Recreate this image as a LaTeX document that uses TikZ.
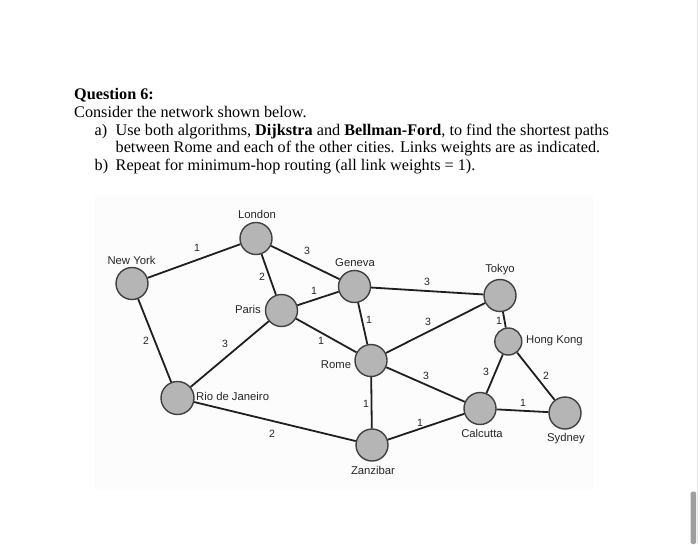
\documentclass[tikz,border=0pt]{standalone}
\usepackage{fontspec}
\setmainfont{Liberation Serif}
\newfontfamily\labelfont{Liberation Sans}
\begin{document}
\begin{tikzpicture}[x=1pt,y=-1pt,
  city/.style={circle,minimum size=32pt,inner sep=0pt,fill=black!29,draw=black!75,line width=1.4pt},
  smallcity/.style={city,minimum size=27pt},
  link/.style={draw=black!88,line width=1.8pt},
  cname/.style={font=\labelfont\fontsize{11.3}{13}\selectfont,text=black!85,inner sep=0pt},
  wlab/.style={font=\labelfont\fontsize{10.5}{12}\selectfont,text=black!85,inner sep=0pt},
  qtext/.style={font=\fontsize{16.2}{18}\selectfont,anchor=base west,inner sep=0pt}]
\useasboundingbox (0,0) rectangle (700,544);
\fill[white] (0,0) rectangle (700,544);
% scroll bar
\draw[black!10,line width=0.8pt] (697.5,0) -- (697.5,544);
\fill[black!38,rounded corners=1.5pt] (690.5,491.5) rectangle (696,544);
% question text
\node[qtext] (q0) at (74,99.5) {\textbf{Question 6:}};
\node[qtext] (q1) at (74,117) {Consider the network shown below.};
\node[qtext] (q2a) at (94.5,135) {a)};
\node[qtext] (q2) at (115.5,135) {Use both algorithms, \textbf{Dijkstra} and \textbf{Bellman-Ford}, to find the shortest paths};
\node[qtext] (q3) at (115.5,152.5) {between Rome and each of the other cities. Links weights are as indicated.};
\node[qtext] (q4a) at (94.5,170) {b)};
\node[qtext] (q4) at (115.5,170) {Repeat for minimum-hop routing (all link weights = 1).};
% diagram background
\fill[black!1.2] (95,195) rectangle (593,490);
% cities
\node[city] (lon) at (256,238.5) {};
\node[city] (ny) at (132,283.5) {};
\node[city] (gen) at (354.5,286.5) {};
\node[city] (par) at (281.5,310.5) {};
\node[city] (tok) at (500,295.5) {};
\node[smallcity] (hk) at (508.3,341.5) {};
\node[city] (rome) at (371,360.5) {};
\node[city,minimum size=33pt] (rio) at (177.5,398) {};
\node[city] (cal) at (480,408.5) {};
\node[city] (syd) at (565,413) {};
\node[city] (zan) at (372,445) {};
% links
\draw[link] (ny) -- (lon);
\draw[link] (lon) -- (gen);
\draw[link] (lon) -- (par);
\draw[link] (par) -- (gen);
\draw[link] (gen) -- (rome);
\draw[link] (par) -- (rome);
\draw[link] (ny) -- (rio);
\draw[link] (par) -- (rio);
\draw[link] (gen) -- (tok);
\draw[link] (rome) -- (tok);
\draw[link] (tok) -- (hk);
\draw[link] (rome) -- (cal);
\draw[link] (cal) -- (hk);
\draw[link] (hk) -- (syd);
\draw[link] (cal) -- (syd);
\draw[link] (rome) -- (zan);
\draw[link] (zan) -- (cal);
\draw[link] (rio) -- (zan);
% city names
\node[cname] (tlon) at (257,214) {London};
\node[cname] (tny) at (131.5,260) {New York};
\node[cname] (tgen) at (355,262.5) {Geneva};
\node[cname] (tpar) at (248,309) {Paris};
\node[cname] (ttok) at (500,270) {Tokyo};
\node[cname,anchor=west] (thk) at (526,341) {Hong Kong};
\node[cname] (trome) at (336,365) {Rome};
\node[cname,anchor=west] (trio) at (196,396) {Rio de Janeiro};
\node[cname] (tcal) at (482,433) {Calcutta};
\node[cname] (tsyd) at (566,439) {Sydney};
\node[cname] (tzan) at (373,470) {Zanzibar};
% weights
\node[wlab] (w1) at (197,248) {1};
\node[wlab] (w2) at (307,251) {3};
\node[wlab] (w3) at (262,277) {2};
\node[wlab] (w4) at (314,291) {1};
\node[wlab] (w5) at (369,320) {1};
\node[wlab] (w6) at (321,341) {1};
\node[wlab] (w7) at (146,341) {2};
\node[wlab] (w8) at (225,344) {3};
\node[wlab] (w9) at (427,282) {3};
\node[wlab] (w10) at (428,322) {3};
\node[wlab] (w11) at (499,321) {1};
\node[wlab] (w12) at (426,376) {3};
\node[wlab] (w13) at (486,372) {3};
\node[wlab] (w14) at (546,376) {2};
\node[wlab] (w15) at (523,403) {1};
\node[wlab] (w16) at (366,404) {1};
\node[wlab] (w17) at (420,423) {1};
\node[wlab] (w18) at (272,434) {2};
\end{tikzpicture}
\end{document}
